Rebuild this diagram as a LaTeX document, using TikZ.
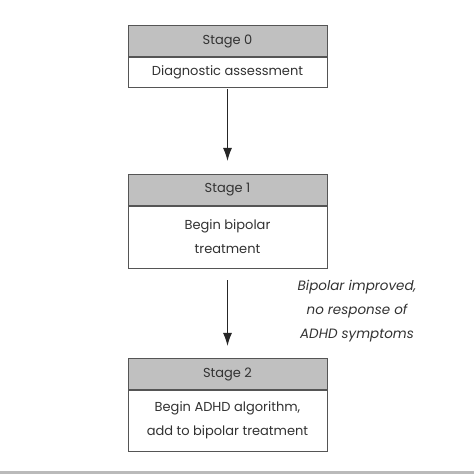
\documentclass[tikz,border=0pt]{standalone}
\usepackage{fontspec}
\setmainfont{Poppins}
\usepackage{tikz}
\usetikzlibrary{positioning,arrows.meta}

\definecolor{boxline}{RGB}{85,85,85}
\definecolor{headfill}{RGB}{192,192,192}
\definecolor{textgray}{RGB}{50,50,50}

\tikzset{
  stagehead/.style={draw=boxline, fill=headfill, minimum width=199pt, minimum height=31pt,
    inner sep=0pt, text=textgray, font=\fontsize{13}{15}\selectfont},
  stagebody/.style={draw=boxline, fill=white, minimum width=199pt, inner sep=0pt,
    text=textgray, align=center, font=\fontsize{13}{24}\selectfont},
  flow/.style={-{Latex[length=13pt,width=9pt]}, line width=1.2pt, black!85}
}

\begin{document}
\begin{tikzpicture}[x=1pt,y=1pt]
    \useasboundingbox (0,0) rectangle (474,474);
    \node [stagehead] (head0) at (227.5,433) {Stage 0};
    \node [stagebody, minimum height=30pt, below=0pt of head0] (body0) {Diagnostic assessment};
    \node [stagehead] (head1) at (227.5,284) {Stage 1};
    \node [stagebody, minimum height=62pt, below=0pt of head1] (body1) {Begin bipolar\\treatment};
    \node [stagehead] (head2) at (227.5,100) {Stage 2};
    \node [stagebody, minimum height=61pt, below=0pt of head2] (body2) {Begin ADHD algorithm,\\add to bipolar treatment};
    \draw [flow] (body0.south) ++(0,-2) coordinate (a0) -- (head1.north |- 0,313) coordinate (b0);
    \draw [flow] (body1.south) ++(0,-12) coordinate (a1) -- (head2.north |- 0,128) coordinate (b1);
    \node [text=textgray, align=center, font=\fontsize{13.5}{24}\selectfont\itshape] (why) at (357,163)
      {Bipolar improved,\\no response of\\ADHD symptoms};
    \fill [black!27] (0,0) rectangle (474,3);
\end{tikzpicture}
\end{document}
